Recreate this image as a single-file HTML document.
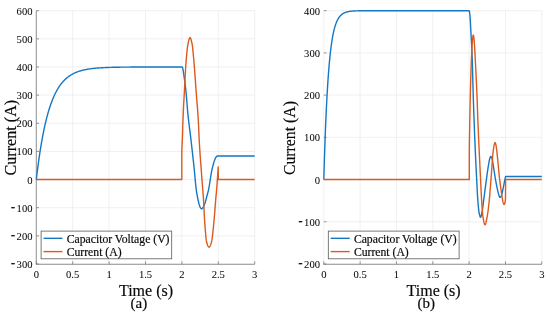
<!DOCTYPE html>
<html lang="en">
<head>
<meta charset="utf-8">
<title>Capacitor voltage and current</title>
<style>
html,body{margin:0;padding:0;background:#fff;}
body{width:550px;height:320px;overflow:hidden;}
svg{display:block;}
text{font-family:"Liberation Serif",serif;fill:#0a0a0a;stroke:#0a0a0a;stroke-width:0.18px;}
.tk{font-size:10.6px;stroke-width:0.05px;}
.mn{font-weight:bold;font-size:13.5px;}
.lb{font-size:16px;}
.sb{font-size:15px;}
.lg{font-size:11.7px;}
</style>
</head>
<body>
<svg width="550" height="320" viewBox="0 0 550 320">
<rect width="550" height="320" fill="#fff"/>
<path d="M36.30 10.70V264.00M72.70 10.70V264.00M109.10 10.70V264.00M145.50 10.70V264.00M181.90 10.70V264.00M218.30 10.70V264.00M254.70 10.70V264.00M36.30 10.70H254.70M36.30 38.84H254.70M36.30 66.99H254.70M36.30 95.13H254.70M36.30 123.28H254.70M36.30 151.42H254.70M36.30 179.57H254.70M36.30 207.71H254.70M36.30 235.86H254.70M36.30 264.00H254.70" stroke="#e6e6e6" stroke-width="0.6" fill="none"/>
<path d="M323.80 10.70V264.00M360.13 10.70V264.00M396.47 10.70V264.00M432.80 10.70V264.00M469.13 10.70V264.00M505.47 10.70V264.00M541.80 10.70V264.00M323.80 10.70H541.80M323.80 52.92H541.80M323.80 95.13H541.80M323.80 137.35H541.80M323.80 179.57H541.80M323.80 221.78H541.80M323.80 264.00H541.80" stroke="#e6e6e6" stroke-width="0.6" fill="none"/>
<path d="M35.90 264.30H254.70M36.30 264.30v-3M72.70 264.30v-3M109.10 264.30v-3M145.50 264.30v-3M181.90 264.30v-3M218.30 264.30v-3M254.70 264.30v-3" stroke="#7a7a7a" stroke-width="0.8" fill="none"/>
<path d="M36.30 10.70V264.00M36.30 10.70h2.7M36.30 38.84h2.7M36.30 66.99h2.7M36.30 95.13h2.7M36.30 123.28h2.7M36.30 151.42h2.7M36.30 179.57h2.7M36.30 207.71h2.7M36.30 235.86h2.7M36.30 264.00h2.7" stroke="#7a7a7a" stroke-width="0.8" fill="none"/>
<path d="M323.40 264.30H541.80M323.80 264.30v-3M360.13 264.30v-3M396.47 264.30v-3M432.80 264.30v-3M469.13 264.30v-3M505.47 264.30v-3M541.80 264.30v-3" stroke="#7a7a7a" stroke-width="0.8" fill="none"/>
<path d="M323.80 10.70h2.7M323.80 52.92h2.7M323.80 95.13h2.7M323.80 137.35h2.7M323.80 179.57h2.7M323.80 221.78h2.7M323.80 264.00h2.7" stroke="#7a7a7a" stroke-width="0.8" fill="none"/>
<path d="M36.30 179.57 L36.66 176.47 L37.03 173.47 L37.39 170.54 L37.76 167.70 L38.12 164.93 L38.49 162.24 L38.85 159.63 L39.22 157.08 L39.58 154.61 L39.95 152.20 L40.31 149.86 L40.68 147.59 L41.04 145.37 L41.41 143.22 L41.77 141.13 L42.14 139.09 L42.50 137.11 L42.87 135.19 L43.23 133.31 L43.60 131.49 L43.96 129.72 L44.33 128.00 L44.69 126.32 L45.06 124.69 L45.42 123.11 L45.79 121.57 L46.15 120.07 L46.52 118.61 L46.88 117.19 L47.25 115.81 L47.61 114.47 L47.98 113.17 L48.34 111.90 L48.71 110.67 L49.07 109.47 L49.44 108.30 L49.80 107.17 L50.17 106.06 L50.53 104.99 L50.90 103.95 L51.26 102.93 L51.63 101.94 L51.99 100.98 L52.36 100.05 L52.72 99.14 L53.09 98.26 L53.45 97.40 L53.82 96.57 L54.18 95.75 L54.55 94.96 L54.91 94.19 L55.28 93.45 L55.64 92.72 L56.01 92.01 L56.37 91.33 L56.74 90.66 L57.10 90.01 L57.46 89.38 L57.83 88.76 L58.19 88.16 L58.56 87.58 L58.92 87.02 L59.29 86.47 L59.65 85.93 L60.02 85.41 L60.38 84.91 L60.75 84.41 L61.11 83.93 L61.48 83.47 L61.84 83.02 L62.21 82.58 L62.57 82.15 L62.94 81.73 L63.30 81.33 L63.67 80.93 L64.03 80.55 L64.40 80.18 L64.76 79.82 L65.13 79.46 L65.49 79.12 L65.86 78.79 L66.22 78.46 L66.59 78.15 L66.95 77.84 L67.32 77.54 L67.68 77.25 L68.05 76.97 L68.41 76.70 L68.78 76.43 L69.14 76.17 L69.51 75.92 L69.87 75.67 L70.24 75.44 L70.60 75.20 L70.97 74.98 L71.33 74.76 L71.70 74.55 L72.06 74.34 L72.43 74.14 L72.79 73.94 L73.16 73.75 L73.52 73.56 L73.89 73.38 L74.25 73.21 L74.62 73.04 L74.98 72.87 L75.35 72.71 L75.71 72.55 L76.08 72.40 L76.44 72.25 L76.81 72.11 L77.17 71.97 L77.54 71.83 L77.90 71.70 L78.26 71.57 L78.63 71.44 L78.99 71.32 L79.36 71.20 L79.72 71.08 L80.09 70.97 L80.45 70.86 L80.82 70.76 L81.18 70.65 L81.55 70.55 L81.91 70.45 L82.28 70.36 L82.64 70.27 L83.01 70.18 L83.37 70.09 L83.74 70.00 L84.10 69.92 L84.47 69.84 L84.83 69.76 L85.20 69.69 L85.56 69.61 L85.93 69.54 L86.29 69.47 L86.66 69.40 L87.02 69.34 L87.39 69.27 L87.75 69.21 L88.12 69.15 L88.48 69.09 L88.85 69.03 L89.21 68.97 L89.58 68.92 L89.94 68.87 L90.31 68.82 L90.67 68.76 L91.04 68.72 L91.40 68.67 L91.77 68.62 L92.13 68.58 L92.50 68.53 L92.86 68.49 L93.23 68.45 L93.59 68.41 L93.96 68.37 L94.32 68.33 L94.69 68.30 L95.05 68.26 L95.42 68.23 L95.78 68.19 L96.15 68.16 L96.51 68.13 L96.88 68.10 L97.24 68.06 L97.61 68.04 L97.97 68.01 L98.34 67.98 L98.70 67.95 L99.06 67.92 L99.43 67.90 L99.79 67.87 L100.16 67.85 L100.52 67.83 L100.89 67.80 L101.25 67.78 L101.62 67.76 L101.98 67.74 L102.35 67.72 L102.71 67.70 L103.08 67.68 L103.44 67.66 L103.81 67.64 L104.17 67.62 L104.54 67.61 L104.90 67.59 L105.27 67.57 L105.63 67.56 L106.00 67.54 L106.36 67.53 L106.73 67.51 L107.09 67.50 L107.46 67.48 L107.82 67.47 L108.19 67.46 L108.55 67.44 L108.92 67.43 L109.28 67.42 L109.65 67.41 L110.01 67.39 L110.38 67.38 L110.74 67.37 L111.11 67.36 L111.47 67.35 L111.84 67.34 L112.20 67.33 L112.57 67.32 L112.93 67.31 L113.30 67.30 L113.66 67.30 L114.03 67.29 L114.39 67.28 L114.76 67.27 L115.12 67.26 L115.49 67.26 L115.85 67.25 L116.22 67.24 L116.58 67.23 L116.95 67.23 L117.31 67.22 L117.68 67.22 L118.04 67.21 L118.41 67.20 L118.77 67.20 L119.14 67.19 L119.50 67.19 L119.86 67.18 L120.23 67.18 L120.59 67.17 L120.96 67.16 L121.32 67.16 L121.69 67.16 L122.05 67.15 L122.42 67.15 L122.78 67.14 L123.15 67.14 L123.51 67.13 L123.88 67.13 L124.24 67.13 L124.61 67.12 L124.97 67.12 L125.34 67.11 L125.70 67.11 L126.07 67.11 L126.43 67.10 L126.80 67.10 L127.16 67.10 L127.53 67.10 L127.89 67.09 L128.26 67.09 L128.62 67.09 L128.99 67.08 L129.35 67.08 L129.72 67.08 L130.08 67.08 L130.45 67.07 L130.81 67.07 L131.18 67.07 L131.54 67.07 L131.91 67.07 L132.27 67.06 L132.64 67.06 L133.00 67.06 L133.37 67.06 L133.73 67.06 L134.10 67.05 L134.46 67.05 L134.83 67.05 L135.19 67.05 L135.56 67.05 L135.92 67.05 L136.29 67.04 L136.65 67.04 L137.02 67.04 L137.38 67.04 L137.75 67.04 L138.11 67.04 L138.48 67.04 L138.84 67.03 L139.21 67.03 L139.57 67.03 L139.94 67.03 L140.30 67.03 L140.66 67.03 L141.03 67.03 L141.39 67.03 L141.76 67.02 L142.12 67.02 L142.49 67.02 L142.85 67.02 L143.22 67.02 L143.58 67.02 L143.95 67.02 L144.31 67.02 L144.68 67.02 L145.04 67.02 L145.41 67.02 L145.77 67.02 L146.14 67.01 L146.50 67.01 L146.87 67.01 L147.23 67.01 L147.60 67.01 L147.96 67.01 L148.33 67.01 L148.69 67.01 L149.06 67.01 L149.42 67.01 L149.79 67.01 L150.15 67.01 L150.52 67.01 L150.88 67.01 L151.25 67.01 L151.61 67.01 L151.98 67.01 L152.34 67.00 L152.71 67.00 L153.07 67.00 L153.44 67.00 L153.80 67.00 L154.17 67.00 L154.53 67.00 L154.90 67.00 L155.26 67.00 L155.63 67.00 L155.99 67.00 L156.36 67.00 L156.72 67.00 L157.09 67.00 L157.45 67.00 L157.82 67.00 L158.18 67.00 L158.55 67.00 L158.91 67.00 L159.28 67.00 L159.64 67.00 L160.01 67.00 L160.37 67.00 L160.74 67.00 L161.10 67.00 L161.46 67.00 L161.83 67.00 L162.19 67.00 L162.56 67.00 L162.92 67.00 L163.29 67.00 L163.65 67.00 L164.02 67.00 L164.38 67.00 L164.75 67.00 L165.11 66.99 L165.48 66.99 L165.84 66.99 L166.21 66.99 L166.57 66.99 L166.94 66.99 L167.30 66.99 L167.67 66.99 L168.03 66.99 L168.40 66.99 L168.76 66.99 L169.13 66.99 L169.49 66.99 L169.86 66.99 L170.22 66.99 L170.59 66.99 L170.95 66.99 L171.32 66.99 L171.68 66.99 L172.05 66.99 L172.41 66.99 L172.78 66.99 L173.14 66.99 L173.51 66.99 L173.87 66.99 L174.24 66.99 L174.60 66.99 L174.97 66.99 L175.33 66.99 L175.70 66.99 L176.06 66.99 L176.43 66.99 L176.79 66.99 L177.16 66.99 L177.52 66.99 L177.89 66.99 L178.25 66.99 L178.62 66.99 L178.98 66.99 L179.35 66.99 L179.71 66.99 L180.08 66.99 L180.44 66.99 L180.81 66.99 L181.17 66.99 L181.54 66.99 L181.90 66.99 L182.20 66.99 L182.45 67.54 L182.70 68.33 L182.95 69.29 L183.20 70.49 L183.45 72.05 L183.70 73.83 L183.95 75.65 L184.20 77.41 L184.45 79.19 L184.70 81.01 L184.95 82.90 L185.20 84.86 L185.45 86.92 L185.70 89.09 L185.95 91.44 L186.20 94.06 L186.45 96.91 L186.70 99.90 L186.95 102.98 L187.20 106.05 L187.45 109.04 L187.70 111.89 L187.95 114.51 L188.20 116.90 L188.45 119.17 L188.70 121.35 L188.95 123.45 L189.20 125.49 L189.45 127.48 L189.70 129.46 L189.95 131.42 L190.20 133.40 L190.45 135.40 L190.70 137.45 L190.95 139.57 L191.20 141.74 L191.45 143.92 L191.70 146.12 L191.95 148.33 L192.20 150.56 L192.45 152.80 L192.70 155.06 L192.95 157.34 L193.20 159.63 L193.45 161.94 L193.70 164.27 L193.95 166.63 L194.20 169.00 L194.45 171.49 L194.70 174.13 L194.95 176.86 L195.20 179.60 L195.45 182.28 L195.70 184.84 L195.95 187.19 L196.20 189.26 L196.45 191.04 L196.70 192.68 L196.95 194.21 L197.20 195.64 L197.45 196.98 L197.70 198.23 L197.95 199.40 L198.20 200.50 L198.45 201.57 L198.70 202.61 L198.95 203.61 L199.20 204.55 L199.45 205.39 L199.70 206.11 L199.95 206.70 L200.20 207.18 L200.45 207.65 L200.70 208.08 L200.95 208.43 L201.20 208.68 L201.45 208.80 L201.70 208.77 L201.95 208.64 L202.20 208.43 L202.45 208.17 L202.70 207.87 L202.95 207.56 L203.20 207.23 L203.45 206.81 L203.70 206.31 L203.95 205.75 L204.20 205.15 L204.45 204.50 L204.70 203.83 L204.95 203.14 L205.20 202.42 L205.45 201.62 L205.70 200.75 L205.95 199.84 L206.20 198.88 L206.45 197.91 L206.70 196.93 L206.95 195.95 L207.20 195.00 L207.45 194.08 L207.70 193.18 L207.95 192.25 L208.20 191.28 L208.45 190.22 L208.70 189.04 L208.95 187.72 L209.20 186.28 L209.45 184.75 L209.70 183.15 L209.95 181.51 L210.20 179.85 L210.45 178.21 L210.70 176.59 L210.95 175.04 L211.20 173.58 L211.45 172.22 L211.70 171.00 L211.95 169.87 L212.20 168.77 L212.45 167.70 L212.70 166.67 L212.95 165.67 L213.20 164.72 L213.45 163.80 L213.70 162.94 L213.95 162.12 L214.20 161.35 L214.45 160.64 L214.70 159.97 L214.95 159.32 L215.20 158.71 L215.45 158.16 L215.70 157.67 L215.95 157.27 L216.20 156.94 L216.45 156.63 L216.70 156.37 L216.95 156.15 L217.20 156.00 L254.70 156.00" stroke="#1477c4" stroke-width="1.4" fill="none" stroke-linejoin="round"/>
<path d="M36.30 179.57 L181.80 179.57 L181.80 150.00 L182.05 145.54 L182.30 140.00 L182.55 133.62 L182.80 125.23 L183.05 117.74 L183.30 111.90 L183.55 106.69 L183.80 101.90 L184.05 97.35 L184.30 92.84 L184.55 88.18 L184.80 83.41 L185.05 78.62 L185.30 73.96 L185.55 69.53 L185.80 65.47 L186.05 61.88 L186.30 58.84 L186.55 56.02 L186.80 53.36 L187.05 50.89 L187.30 48.67 L187.55 46.71 L187.80 45.07 L188.05 43.76 L188.30 42.58 L188.55 41.44 L188.80 40.38 L189.05 39.44 L189.30 38.65 L189.55 38.05 L189.80 37.69 L190.05 37.61 L190.30 37.79 L190.55 38.20 L190.80 38.81 L191.05 39.59 L191.30 40.51 L191.55 41.52 L191.80 42.61 L192.05 43.74 L192.30 45.21 L192.55 47.11 L192.80 49.35 L193.05 51.85 L193.30 54.52 L193.55 57.26 L193.80 60.00 L194.05 62.84 L194.30 65.93 L194.55 69.21 L194.80 72.63 L195.05 76.16 L195.30 79.74 L195.55 83.32 L195.80 86.87 L196.05 90.32 L196.30 93.63 L196.55 96.78 L196.80 99.83 L197.05 102.86 L197.30 105.95 L197.55 109.16 L197.80 112.57 L198.05 116.25 L198.30 120.28 L198.55 124.98 L198.80 130.93 L199.05 136.93 L199.30 141.80 L199.55 146.05 L199.80 150.00 L200.05 153.71 L200.30 157.23 L200.55 160.63 L200.80 163.95 L201.05 167.27 L201.30 170.63 L201.55 174.04 L201.80 177.36 L202.05 180.66 L202.30 183.84 L202.55 186.92 L202.80 190.00 L203.05 193.18 L203.30 196.55 L203.55 200.22 L203.80 204.52 L204.05 209.63 L204.30 214.89 L204.55 219.65 L204.80 223.39 L205.05 226.84 L205.30 230.16 L205.55 233.27 L205.80 236.08 L206.05 238.49 L206.30 240.43 L206.55 241.80 L206.80 242.72 L207.05 243.58 L207.30 244.36 L207.55 245.08 L207.80 245.71 L208.05 246.24 L208.30 246.66 L208.55 246.97 L208.80 247.15 L209.05 247.20 L209.30 247.10 L209.55 246.87 L209.80 246.53 L210.05 246.07 L210.30 245.53 L210.55 244.90 L210.80 244.21 L211.05 243.46 L211.30 242.66 L211.55 241.82 L211.80 240.70 L212.05 239.22 L212.30 237.42 L212.55 235.36 L212.80 233.09 L213.05 230.67 L213.30 228.15 L213.55 225.58 L213.80 223.01 L214.05 220.43 L214.30 217.56 L214.55 214.47 L214.80 211.24 L215.05 207.96 L215.30 204.72 L215.55 201.60 L215.80 198.67 L216.05 195.87 L216.30 193.10 L216.55 190.27 L216.80 187.27 L217.05 184.03 L217.30 180.61 L217.55 177.03 L217.80 173.29 L218.05 169.40 L218.20 167.00 L218.35 179.57 L254.70 179.57" stroke="#dc5a1e" stroke-width="1.4" fill="none" stroke-linejoin="round"/>
<path d="M323.80 179.57 L323.95 174.43 L324.09 169.46 L324.24 164.63 L324.38 159.95 L324.53 155.41 L324.67 151.01 L324.82 146.75 L324.97 142.61 L325.11 138.60 L325.26 134.71 L325.40 130.94 L325.55 127.29 L325.70 123.74 L325.84 120.31 L325.99 116.97 L326.13 113.74 L326.28 110.61 L326.42 107.57 L326.57 104.63 L326.72 101.77 L326.86 99.00 L327.01 96.32 L327.15 93.72 L327.30 91.19 L327.45 88.75 L327.59 86.37 L327.74 84.07 L327.88 81.84 L328.03 79.68 L328.17 77.58 L328.32 75.55 L328.47 73.58 L328.61 71.67 L328.76 69.81 L328.90 68.02 L329.05 66.27 L329.20 64.58 L329.34 62.95 L329.49 61.36 L329.63 59.82 L329.78 58.32 L329.92 56.88 L330.07 55.47 L330.22 54.11 L330.36 52.79 L330.51 51.51 L330.65 50.27 L330.80 49.07 L330.95 47.90 L331.09 46.77 L331.24 45.67 L331.38 44.61 L331.53 43.58 L331.67 42.58 L331.82 41.61 L331.97 40.67 L332.11 39.76 L332.26 38.88 L332.40 38.02 L332.55 37.19 L332.69 36.39 L332.84 35.60 L332.99 34.85 L333.13 34.11 L333.28 33.40 L333.42 32.71 L333.57 32.04 L333.72 31.39 L333.86 30.76 L334.01 30.15 L334.15 29.56 L334.30 28.99 L334.44 28.43 L334.59 27.89 L334.74 27.37 L334.88 26.86 L335.03 26.37 L335.17 25.90 L335.32 25.43 L335.47 24.99 L335.61 24.55 L335.76 24.13 L335.90 23.72 L336.05 23.33 L336.19 22.94 L336.34 22.57 L336.49 22.21 L336.63 21.86 L336.78 21.52 L336.92 21.19 L337.07 20.87 L337.22 20.56 L337.36 20.26 L337.51 19.97 L337.65 19.69 L337.80 19.42 L337.94 19.15 L338.09 18.90 L338.24 18.65 L338.38 18.41 L338.53 18.17 L338.67 17.94 L338.82 17.72 L338.97 17.51 L339.11 17.30 L339.26 17.10 L339.40 16.91 L339.55 16.72 L339.69 16.54 L339.84 16.36 L339.99 16.19 L340.13 16.02 L340.28 15.86 L340.42 15.70 L340.57 15.55 L340.72 15.40 L340.86 15.26 L341.01 15.12 L341.15 14.99 L341.30 14.86 L341.44 14.73 L341.59 14.61 L341.74 14.49 L341.88 14.37 L342.03 14.26 L342.17 14.15 L342.32 14.05 L342.46 13.95 L342.61 13.85 L342.76 13.75 L342.90 13.66 L343.05 13.57 L343.19 13.48 L343.34 13.40 L343.49 13.32 L343.63 13.24 L343.78 13.16 L343.92 13.08 L344.07 13.01 L344.21 12.94 L344.36 12.87 L344.51 12.81 L344.65 12.74 L344.80 12.68 L344.94 12.62 L345.09 12.56 L345.24 12.51 L345.38 12.45 L345.53 12.40 L345.67 12.35 L345.82 12.30 L345.96 12.25 L346.11 12.20 L346.26 12.15 L346.40 12.11 L346.55 12.07 L346.69 12.03 L346.84 11.99 L346.99 11.95 L347.13 11.91 L347.28 11.87 L347.42 11.84 L347.57 11.80 L347.71 11.77 L347.86 11.74 L348.01 11.70 L348.15 11.67 L348.30 11.64 L348.44 11.62 L348.59 11.59 L348.74 11.56 L348.88 11.53 L349.03 11.51 L349.17 11.48 L349.32 11.46 L349.46 11.44 L349.61 11.42 L349.76 11.39 L349.90 11.37 L350.05 11.35 L350.19 11.33 L350.34 11.31 L350.48 11.29 L350.63 11.28 L350.78 11.26 L350.92 11.24 L351.07 11.23 L351.21 11.21 L351.36 11.19 L351.51 11.18 L351.65 11.16 L351.80 11.15 L351.94 11.14 L352.09 11.12 L352.23 11.11 L352.38 11.10 L352.53 11.09 L352.67 11.07 L352.82 11.06 L352.96 11.05 L353.11 11.04 L353.26 11.03 L353.40 11.02 L353.55 11.01 L353.69 11.00 L353.84 10.99 L353.98 10.98 L354.13 10.97 L354.28 10.97 L354.42 10.96 L354.57 10.95 L354.71 10.94 L354.86 10.94 L355.01 10.93 L355.15 10.92 L355.30 10.91 L355.44 10.91 L355.59 10.90 L355.73 10.90 L355.88 10.89 L356.03 10.88 L356.17 10.88 L356.32 10.87 L356.46 10.87 L356.61 10.86 L356.76 10.86 L356.90 10.85 L357.05 10.85 L357.19 10.84 L357.34 10.84 L357.48 10.84 L357.63 10.83 L357.78 10.83 L357.92 10.82 L358.07 10.82 L358.21 10.82 L358.36 10.81 L358.51 10.81 L358.65 10.81 L358.80 10.80 L358.94 10.80 L359.09 10.80 L359.23 10.79 L359.38 10.79 L359.53 10.79 L359.67 10.78 L359.82 10.78 L359.96 10.78 L360.11 10.78 L360.25 10.78 L360.40 10.77 L360.55 10.77 L360.69 10.77 L360.84 10.77 L360.98 10.76 L361.13 10.76 L361.28 10.76 L361.42 10.76 L361.57 10.76 L361.71 10.76 L361.86 10.75 L362.00 10.75 L362.15 10.75 L362.30 10.75 L362.44 10.75 L362.59 10.75 L362.73 10.74 L362.88 10.74 L363.03 10.74 L363.17 10.74 L363.32 10.74 L363.46 10.74 L363.61 10.74 L363.75 10.74 L363.90 10.73 L364.05 10.73 L364.19 10.73 L364.34 10.73 L364.48 10.73 L364.63 10.73 L364.78 10.73 L364.92 10.73 L365.07 10.73 L365.21 10.73 L365.36 10.73 L365.50 10.72 L365.65 10.72 L365.80 10.72 L365.94 10.72 L366.09 10.72 L366.23 10.72 L366.38 10.72 L366.53 10.72 L366.67 10.72 L366.82 10.72 L366.96 10.72 L367.11 10.72 L367.25 10.72 L367.40 10.72 L369.48 10.71 L371.55 10.71 L373.63 10.70 L375.70 10.70 L377.78 10.70 L379.86 10.70 L381.93 10.70 L384.01 10.70 L386.09 10.70 L388.16 10.70 L390.24 10.70 L392.31 10.70 L394.39 10.70 L396.47 10.70 L398.54 10.70 L400.62 10.70 L402.70 10.70 L404.77 10.70 L406.85 10.70 L408.92 10.70 L411.00 10.70 L413.08 10.70 L415.15 10.70 L417.23 10.70 L419.30 10.70 L421.38 10.70 L423.46 10.70 L425.53 10.70 L427.61 10.70 L429.69 10.70 L431.76 10.70 L433.84 10.70 L435.91 10.70 L437.99 10.70 L440.07 10.70 L442.14 10.70 L444.22 10.70 L446.30 10.70 L448.37 10.70 L450.45 10.70 L452.52 10.70 L454.60 10.70 L456.68 10.70 L458.75 10.70 L460.83 10.70 L462.90 10.70 L464.98 10.70 L467.06 10.70 L469.13 10.70 L469.20 10.70 L469.45 11.55 L469.70 13.28 L469.95 15.52 L470.20 18.59 L470.45 23.13 L470.70 28.12 L470.95 32.71 L471.20 37.25 L471.45 41.98 L471.70 47.06 L471.95 52.33 L472.20 58.29 L472.45 65.80 L472.70 75.48 L472.95 85.56 L473.20 94.31 L473.45 102.22 L473.70 109.72 L473.95 116.85 L474.20 123.71 L474.45 130.33 L474.70 136.69 L474.95 142.82 L475.20 148.71 L475.45 154.36 L475.70 159.79 L475.95 165.03 L476.20 170.11 L476.45 175.07 L476.70 179.97 L476.95 185.00 L477.20 189.98 L477.45 194.61 L477.70 198.63 L477.95 201.92 L478.20 204.95 L478.45 207.67 L478.70 209.97 L478.95 211.72 L479.20 213.04 L479.45 214.28 L479.70 215.38 L479.95 216.28 L480.20 216.91 L480.45 217.19 L480.70 217.07 L480.95 216.60 L481.20 215.84 L481.45 214.89 L481.70 213.83 L481.95 212.72 L482.20 211.50 L482.45 209.93 L482.70 208.10 L482.95 206.10 L483.20 204.02 L483.45 201.95 L483.70 200.00 L483.95 198.12 L484.20 196.22 L484.45 194.30 L484.70 192.37 L484.95 190.44 L485.20 188.51 L485.45 186.60 L485.70 184.70 L485.95 182.83 L486.20 181.00 L486.45 179.17 L486.70 177.32 L486.95 175.48 L487.20 173.65 L487.45 171.85 L487.70 170.09 L487.95 168.41 L488.20 166.80 L488.45 165.29 L488.70 163.84 L488.95 162.39 L489.20 161.01 L489.45 159.79 L489.70 158.81 L489.95 158.07 L490.20 157.39 L490.45 156.84 L490.70 156.53 L490.95 156.54 L491.20 156.79 L491.45 157.22 L491.70 157.76 L491.95 158.37 L492.20 159.16 L492.45 160.33 L492.70 161.80 L492.95 163.42 L493.20 165.10 L493.45 166.70 L493.70 168.21 L493.95 169.78 L494.20 171.39 L494.45 173.01 L494.70 174.63 L494.95 176.22 L495.20 177.76 L495.45 179.22 L495.70 180.61 L495.95 181.97 L496.20 183.31 L496.45 184.62 L496.70 185.89 L496.95 187.13 L497.20 188.32 L497.45 189.47 L497.70 190.57 L497.95 191.64 L498.20 192.70 L498.45 193.70 L498.70 194.61 L498.95 195.37 L499.20 196.02 L499.45 196.65 L499.70 197.15 L499.95 197.39 L500.20 197.34 L500.45 197.14 L500.70 196.82 L500.95 196.43 L501.20 196.00 L501.45 195.44 L501.70 194.67 L501.95 193.72 L502.20 192.65 L502.45 191.52 L502.70 190.36 L502.95 189.22 L503.20 188.09 L503.45 186.88 L503.70 185.60 L503.95 184.29 L504.20 182.97 L504.45 181.67 L504.70 180.41 L504.95 179.23 L505.20 178.13 L505.45 177.10 L505.60 176.50 L541.80 176.50" stroke="#1477c4" stroke-width="1.4" fill="none" stroke-linejoin="round"/>
<path d="M323.80 179.57 L469.30 179.57 L469.30 150.00 L469.55 134.28 L469.80 120.00 L470.05 106.86 L470.30 95.07 L470.55 85.40 L470.80 76.81 L471.05 69.15 L471.30 62.43 L471.55 56.48 L471.80 50.86 L472.05 45.92 L472.30 42.11 L472.55 39.54 L472.80 37.29 L473.05 35.64 L473.30 35.00 L473.55 35.66 L473.80 37.33 L474.05 39.57 L474.30 42.07 L474.55 45.67 L474.80 50.18 L475.05 55.12 L475.30 60.00 L475.55 64.73 L475.80 69.57 L476.05 74.57 L476.30 79.78 L476.55 85.24 L476.80 91.00 L477.05 97.38 L477.30 104.38 L477.55 111.54 L477.80 118.43 L478.05 124.71 L478.30 130.71 L478.55 136.52 L478.80 142.17 L479.05 147.71 L479.30 153.17 L479.55 158.50 L479.80 163.71 L480.05 168.84 L480.30 173.93 L480.55 179.03 L480.80 184.34 L481.05 189.70 L481.30 194.77 L481.55 199.22 L481.80 203.03 L482.05 206.70 L482.30 210.11 L482.55 213.10 L482.80 215.54 L483.05 217.30 L483.30 218.79 L483.55 220.21 L483.80 221.50 L484.05 222.63 L484.30 223.57 L484.55 224.27 L484.80 224.69 L485.05 224.79 L485.30 224.54 L485.55 223.98 L485.80 223.16 L486.05 222.15 L486.30 220.99 L486.55 219.75 L486.80 218.49 L487.05 217.25 L487.30 215.91 L487.55 214.40 L487.80 212.73 L488.05 210.92 L488.30 208.99 L488.55 206.93 L488.80 204.78 L489.05 202.54 L489.30 200.06 L489.55 197.29 L489.80 194.32 L490.05 191.19 L490.30 187.97 L490.55 184.73 L490.80 181.51 L491.05 178.38 L491.30 175.10 L491.55 171.63 L491.80 168.06 L492.05 164.51 L492.30 161.05 L492.55 157.80 L492.80 154.85 L493.05 152.30 L493.30 150.21 L493.55 148.38 L493.80 146.77 L494.05 145.44 L494.30 144.40 L494.55 143.44 L494.80 142.71 L495.05 142.51 L495.30 142.85 L495.55 143.54 L495.80 144.43 L496.05 145.48 L496.30 147.06 L496.55 148.99 L496.80 151.00 L497.05 153.10 L497.30 155.41 L497.55 157.89 L497.80 160.50 L498.05 163.19 L498.30 165.92 L498.55 168.64 L498.80 171.31 L499.05 173.89 L499.30 176.32 L499.55 178.58 L499.80 180.65 L500.05 182.65 L500.30 184.57 L500.55 186.43 L500.80 188.23 L501.05 189.97 L501.30 191.67 L501.55 193.33 L501.80 195.05 L502.05 196.78 L502.30 198.46 L502.55 199.97 L502.80 201.23 L503.05 202.16 L503.30 202.97 L503.55 203.69 L503.80 204.24 L504.05 204.49 L504.30 204.37 L504.55 203.90 L504.80 203.18 L505.05 202.30 L505.30 200.69 L505.50 199.00 L505.60 179.57 L541.80 179.57" stroke="#dc5a1e" stroke-width="1.4" fill="none" stroke-linejoin="round"/>
<rect x="41.10" y="231.10" width="130.60" height="27.70" fill="#fff" stroke="#5a5a5a" stroke-width="0.8"/>
<path d="M43.50 238.30h19" stroke="#1477c4" stroke-width="1.4"/>
<path d="M43.50 251.60h19" stroke="#dc5a1e" stroke-width="1.4"/>
<text x="66.70" y="242.80" class="lg">Capacitor Voltage (V)</text>
<text x="66.70" y="255.70" class="lg">Current (A)</text>
<rect x="328.30" y="231.10" width="130.80" height="27.70" fill="#fff" stroke="#5a5a5a" stroke-width="0.8"/>
<path d="M330.70 238.30h19" stroke="#1477c4" stroke-width="1.4"/>
<path d="M330.70 251.60h19" stroke="#dc5a1e" stroke-width="1.4"/>
<text x="353.90" y="242.80" class="lg">Capacitor Voltage (V)</text>
<text x="353.90" y="255.70" class="lg">Current (A)</text>
<text x="32.50" y="14.70" text-anchor="end" class="tk">600</text>
<text x="32.50" y="42.84" text-anchor="end" class="tk">500</text>
<text x="32.50" y="70.99" text-anchor="end" class="tk">400</text>
<text x="32.50" y="99.13" text-anchor="end" class="tk">300</text>
<text x="32.50" y="127.28" text-anchor="end" class="tk">200</text>
<text x="32.50" y="155.42" text-anchor="end" class="tk">100</text>
<text x="32.50" y="183.57" text-anchor="end" class="tk">0</text>
<text x="32.50" y="211.71" text-anchor="end" class="tk"><tspan class="mn" dy="-0.7">-</tspan><tspan dx="1.3" dy="0.7">100</tspan></text>
<text x="32.50" y="239.86" text-anchor="end" class="tk"><tspan class="mn" dy="-0.7">-</tspan><tspan dx="1.3" dy="0.7">200</tspan></text>
<text x="32.50" y="268.00" text-anchor="end" class="tk"><tspan class="mn" dy="-0.7">-</tspan><tspan dx="1.3" dy="0.7">300</tspan></text>
<text x="36.30" y="277.8" text-anchor="middle" class="tk">0</text>
<text x="72.70" y="277.8" text-anchor="middle" class="tk">0.5</text>
<text x="109.10" y="277.8" text-anchor="middle" class="tk">1</text>
<text x="145.50" y="277.8" text-anchor="middle" class="tk">1.5</text>
<text x="181.90" y="277.8" text-anchor="middle" class="tk">2</text>
<text x="218.30" y="277.8" text-anchor="middle" class="tk">2.5</text>
<text x="254.70" y="277.8" text-anchor="middle" class="tk">3</text>
<text x="146.00" y="295.6" text-anchor="middle" class="lb">Time (s)</text>
<text x="138.90" y="308.3" text-anchor="middle" class="sb">(a)</text>
<text transform="translate(16.00 137.65) rotate(-90)" text-anchor="middle" class="lb" style="font-size:16.1px">Current (A)</text>
<text x="320.00" y="14.70" text-anchor="end" class="tk">400</text>
<text x="320.00" y="56.92" text-anchor="end" class="tk">300</text>
<text x="320.00" y="99.13" text-anchor="end" class="tk">200</text>
<text x="320.00" y="141.35" text-anchor="end" class="tk">100</text>
<text x="320.00" y="183.57" text-anchor="end" class="tk">0</text>
<text x="320.00" y="225.78" text-anchor="end" class="tk"><tspan class="mn" dy="-0.7">-</tspan><tspan dx="1.3" dy="0.7">100</tspan></text>
<text x="320.00" y="268.00" text-anchor="end" class="tk"><tspan class="mn" dy="-0.7">-</tspan><tspan dx="1.3" dy="0.7">200</tspan></text>
<text x="323.80" y="277.8" text-anchor="middle" class="tk">0</text>
<text x="360.13" y="277.8" text-anchor="middle" class="tk">0.5</text>
<text x="396.47" y="277.8" text-anchor="middle" class="tk">1</text>
<text x="432.80" y="277.8" text-anchor="middle" class="tk">1.5</text>
<text x="469.13" y="277.8" text-anchor="middle" class="tk">2</text>
<text x="505.47" y="277.8" text-anchor="middle" class="tk">2.5</text>
<text x="541.80" y="277.8" text-anchor="middle" class="tk">3</text>
<text x="433.60" y="295.6" text-anchor="middle" class="lb">Time (s)</text>
<text x="426.30" y="308.3" text-anchor="middle" class="sb">(b)</text>
<text transform="translate(294.80 138.05) rotate(-90)" text-anchor="middle" class="lb" style="font-size:15.8px">Current (A)</text>
</svg>
</body>
</html>
